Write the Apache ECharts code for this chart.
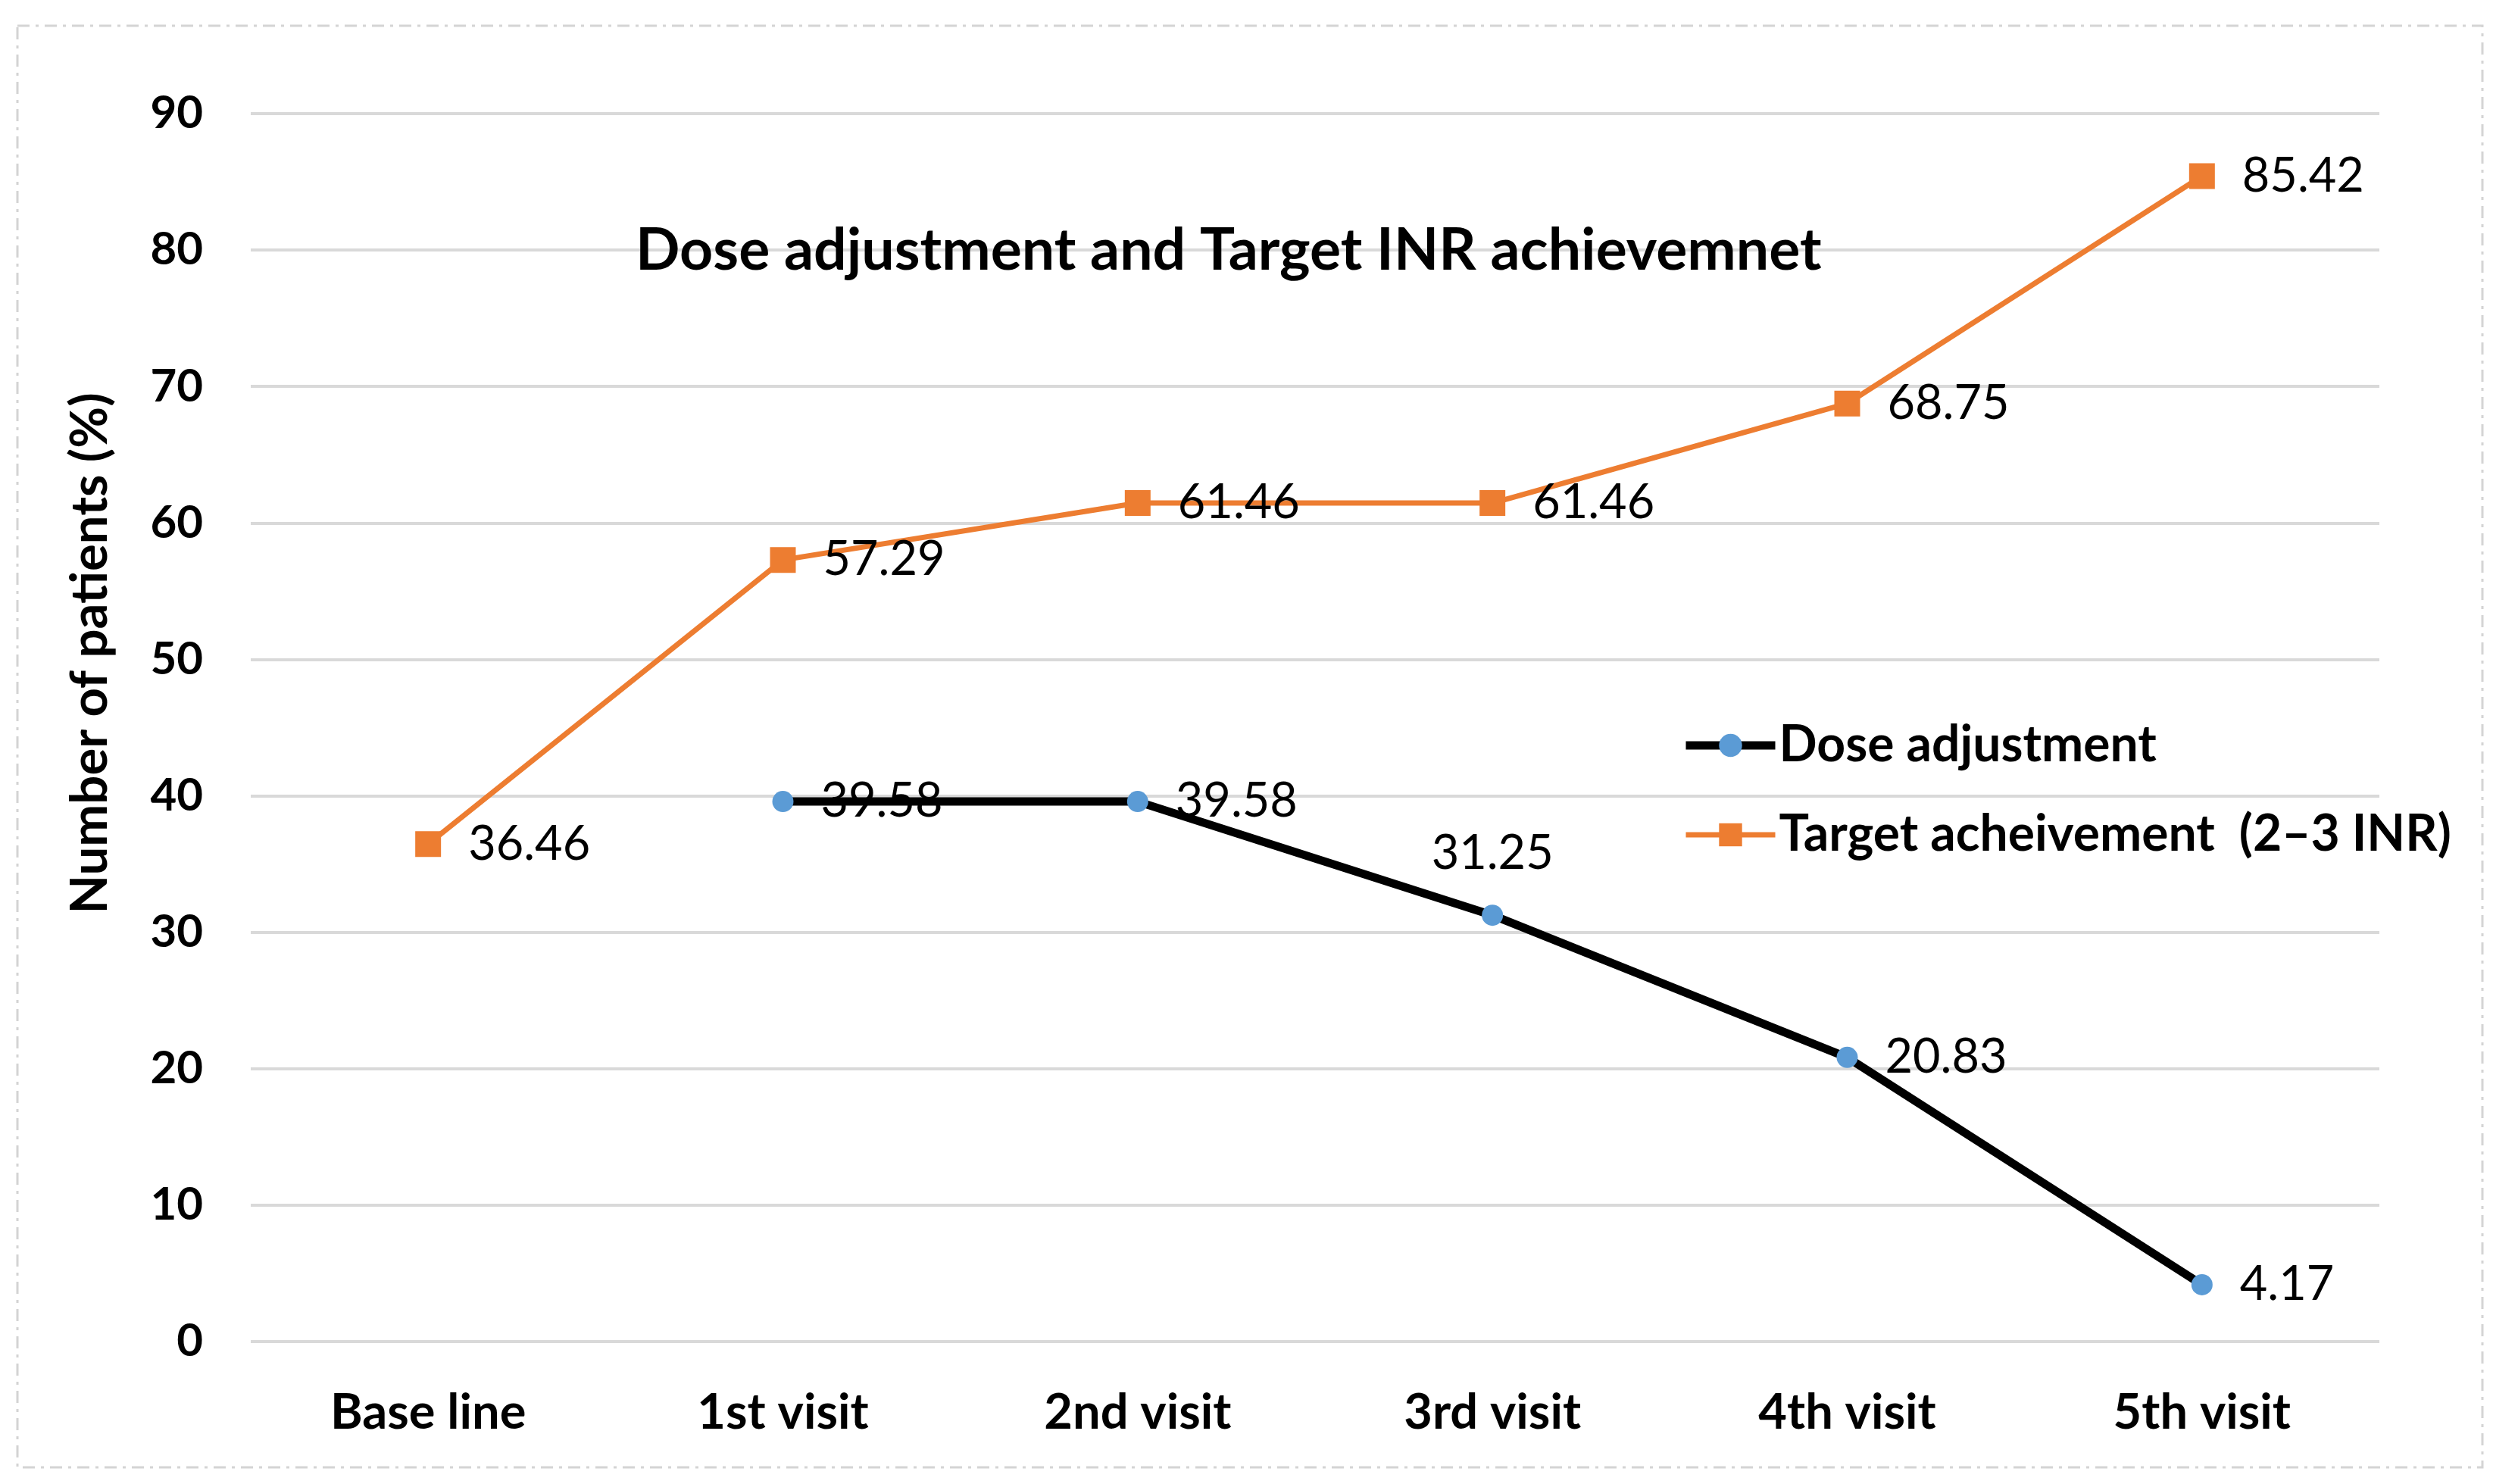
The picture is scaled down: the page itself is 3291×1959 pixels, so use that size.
<!DOCTYPE html>
<html>
<head>
<meta charset="utf-8">
<script src="https://cdn.jsdelivr.net/npm/echarts@6/dist/echarts.min.js"></script>
<style>
html,body{margin:0;padding:0;background:#fff;}
#chart{width:3291px;height:1959px;}
</style>
</head>
<body>
<div id="chart"></div>
<script>
const categories = ['Base line', '1st visit', '2nd visit', '3rd visit', '4th visit', '5th visit'];
const doseAdjustment = [null, 39.58, 39.58, 31.25, 20.83, 4.17];
const targetAchievement = [36.46, 57.29, 61.46, 61.46, 68.75, 85.42];
const seriesNames = ['Dose adjustment', 'Target acheivement  (2\u20133 INR)'];
const titleText = 'Dose adjustment and Target INR achievemnet';
const yAxisName = 'Number of patients (%)';

const FONT = 'Lato';
const chart = echarts.init(document.getElementById('chart'));

const labelBase = {
  show: true,
  position: 'right',
  distance: 36,
  fontFamily: FONT,
  fontSize: 63,
  color: '#000',
  formatter: p => p.value == null ? '' : Number(p.value).toFixed(2)
};

chart.setOption({
  backgroundColor: '#fff',
  animation: false,
  title: {
    text: titleText,
    left: 839,
    top: 287,
    padding: 0,
    textStyle: { fontFamily: FONT, fontWeight: 'bold', fontSize: 77, lineHeight: 88, color: '#000' }
  },
  graphic: [{
    type: 'rect',
    shape: { x: 23, y: 34, width: 3254, height: 1903 },
    style: { fill: 'none', stroke: '#d4d4d4', lineWidth: 3, lineDash: [16, 8, 4, 8] },
    silent: true,
    z: -1
  }],
  legend: {
    orient: 'vertical',
    left: 2215,
    top: 946,
    itemWidth: 118,
    itemHeight: 38,
    itemGap: 52,
    lineStyle: { width: 'inherit' },
    textStyle: { fontFamily: FONT, fontWeight: 'bold', fontSize: 66, lineHeight: 66, color: '#000' },
    data: seriesNames
  },
  grid: { left: 331, right: 150, top: 150, bottom: 188, containLabel: false },
  xAxis: {
    type: 'category',
    data: categories,
    boundaryGap: true,
    axisLine: { show: false },
    axisTick: { show: false },
    axisLabel: { fontFamily: FONT, fontWeight: 'bold', fontSize: 65, color: '#000', margin: 62 }
  },
  yAxis: {
    type: 'value',
    min: 0,
    max: 90,
    interval: 10,
    name: yAxisName,
    nameLocation: 'middle',
    nameGap: 178,
    nameTextStyle: { fontFamily: FONT, fontWeight: 'bold', fontSize: 67, color: '#000', padding: [0, 0, 0, 196] },
    axisLine: { show: false },
    axisTick: { show: false },
    axisLabel: { fontFamily: FONT, fontWeight: 'bold', fontSize: 60, color: '#000', margin: 63 },
    splitLine: { lineStyle: { color: '#d9d9d9', width: 4 } }
  },
  series: [
    {
      name: seriesNames[1],
      type: 'line',
      data: targetAchievement,
      symbol: 'rect',
      symbolSize: 34,
      itemStyle: { color: '#ED7D31' },
      lineStyle: { color: '#ED7D31', width: 7 },
      label: labelBase,
      z: 2
    },
    {
      name: seriesNames[0],
      type: 'line',
      data: doseAdjustment.map((v, i) => i === 3 ? { value: v, label: { position: 'top' } } : v),
      symbol: 'circle',
      symbolSize: 28,
      itemStyle: { color: '#5B9BD5' },
      lineStyle: { color: '#000', width: 11 },
      label: labelBase,
      z: 3
    }
  ]
});
</script>
</body>
</html>
